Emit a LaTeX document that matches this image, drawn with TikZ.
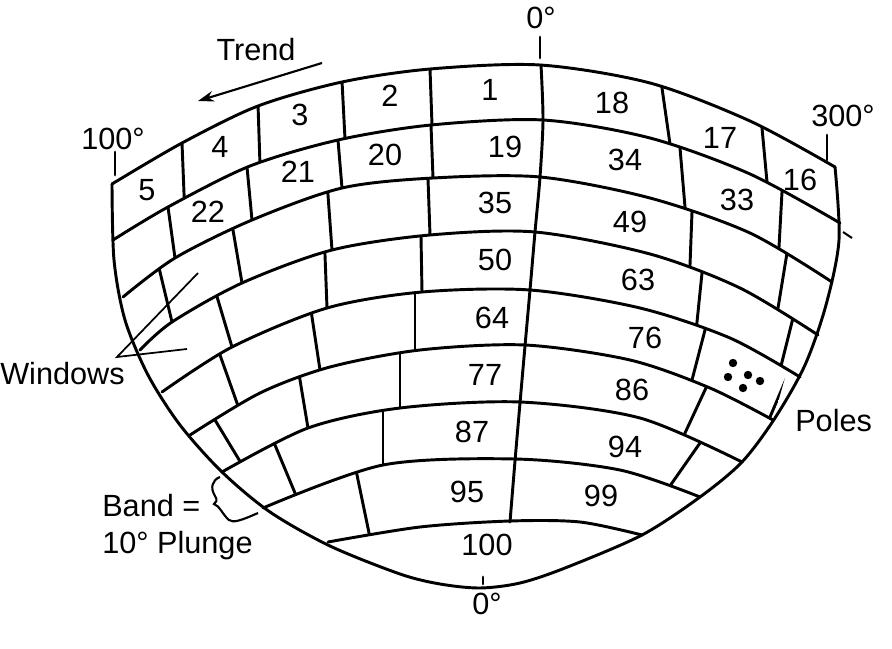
\documentclass[tikz,border=0pt]{standalone}
\usepackage{fontspec}
\setmainfont{Liberation Sans}
\usetikzlibrary{arrows.meta}
\tikzset{
 B0/.style={insert path={plot[smooth] coordinates {(112,184) (182,143) (258,106) (342,82) (430,69) (540,65) (650,83) (750,121) (835,167)}}},
 B1/.style={insert path={plot[smooth] coordinates {(113,240) (168,207) (250,166) (338,140) (431,125) (543,120) (650,138) (750,174) (840,223)}}},
 B2/.style={insert path={plot[smooth] coordinates {(123,297) (175,258) (252,220) (342,188) (433,178) (540,177) (650,198) (750,233) (832,282)}}},
 B3/.style={insert path={plot[smooth] coordinates {(140,350) (172,322) (242,283) (332,250) (430,235) (535,232) (650,254) (740,288) (818,335)}}},
 B4/.style={insert path={plot[smooth] coordinates {(162,392) (232,347) (327,308) (422,292) (530,290) (640,308) (730,338) (800,377)}}},
 B5/.style={insert path={plot[smooth] coordinates {(190,435) (260,393) (330,367) (420,350) (525,345) (630,360) (710,388) (773,420)}}},
 B6/.style={insert path={plot[smooth] coordinates {(222,472) (308,428) (400,408) (520,402) (640,418) (742,462)}}},
 B7/.style={insert path={plot[smooth] coordinates {(263,508) (383,465) (515,459) (620,470) (700,497)}}},
 B8/.style={insert path={plot[smooth] coordinates {(328,542) (420,527) (510,521) (580,522) (642,535)}}},
}
\newcommand\rowclip[2]{%
 \clip[B#1] -- (892,120) -- (892,649) -- (0,649) -- (0,120) -- cycle;
 \clip[B#2] -- (892,0) -- (0,0) -- cycle;}
\begin{document}
\begin{tikzpicture}[x=0.75pt,y=-0.75pt,
 ln/.style={line width=2.2pt,line join=round,line cap=round},
 dl/.style={line width=2.2pt,shorten <=-12pt,shorten >=-12pt},
 lb/.style={font=\fontsize{23}{27}\selectfont,inner sep=0pt}]
\useasboundingbox (0,0) rectangle (892,649);
% dividers, clipped row by row
\begin{scope}\rowclip{0}{1}
\foreach \a/\b/\c/\d in {182/143/184/193,258/104/260/165,342/81/345/139,430/69/432/125,662/88/670/144,762/128/767/182}
 \draw[dl] (\a,\b) -- (\c,\d);
\end{scope}
\begin{scope}\rowclip{1}{2}
\foreach \a/\b/\c/\d in {168/207/175/258,247/167/252/220,338/140/342/188,431/125/433/178,680/148/685/207,782/192/779/247}
 \draw[dl] (\a,\b) -- (\c,\d);
\end{scope}
\begin{scope}\rowclip{2}{3}
\foreach \a/\b/\c/\d in {160/272/172/322,233/230/242/283,328/195/332/250,428/179/430/235,692/212/690/265,787/253/778/308}
 \draw[dl] (\a,\b) -- (\c,\d);
\end{scope}
\begin{scope}\rowclip{3}{4}
\foreach \a/\b/\c/\d in {218/300/232/347,325/255/327/308,421/236/422/292,702/273/697/322,793/318/782/362}
 \draw[dl] (\a,\b) -- (\c,\d);
\end{scope}
\begin{scope}\rowclip{4}{5}
\foreach \a/\b/\c/\d in {149/347/163/388,220/355/237/403,312/317/320/370,415/293/415/350,705/330/692/380,790/370/770/417}
 \draw[dl] (\a,\b) -- (\c,\d);
\end{scope}
\begin{scope}\rowclip{5}{6}
\foreach \a/\b/\c/\d in {215/420/238/458,300/380/308/428,400/351/400/408,705/390/685/433}
 \draw[dl] (\a,\b) -- (\c,\d);
\end{scope}
\begin{scope}\rowclip{6}{7}
\foreach \a/\b/\c/\d in {275/445/295/493,383/410/383/463,700/443/672/483}
 \draw[dl] (\a,\b) -- (\c,\d);
\end{scope}
\begin{scope}\rowclip{7}{8}
\draw[dl] (357,475) -- (368,528);
\end{scope}
% band curves
\draw[ln,B0]; \draw[ln,B1]; \draw[ln,B2]; \draw[ln,B3]; \draw[ln,B4];
\draw[ln,B5]; \draw[ln,B6]; \draw[ln,B7]; \draw[ln,B8];
% bowl
\draw[ln] plot[smooth] coordinates {(112,184) (114,260) (125,320) (148,375) (180,425) (222,472) (270,512) (330,546) (400,574) (440,584) (480,588) (520,583) (565,568) (642,535) (700,497) (742,462) (775,418) (805,365) (826,305) (839,240) (835,167)};
% centre line
\draw[ln] plot[smooth] coordinates {(541,65) (543,120) (540,177) (535,232) (530,290) (525,346) (520,403) (515,461) (510,522)};
% labels
\foreach \t/\x/\y in {5/147/190,4/220/147,3/300/115,2/390/96,1/490/90,18/612/103,17/720/138,16/800/180,
 22/208/212,21/298/172,20/385/155,19/505/147,34/625/160,33/737/200,35/495/203,49/630/222,50/495/260,
 63/638/280,64/492/318,76/645/338,77/485/375,86/632/390,87/472/432,94/625/447,95/467/492,99/601/496,100/487/545}
 \node[lb] (n\t) at (\x,\y) {\t};
% ticks
\draw[ln] (540,37) -- (540,58);
\draw[ln] (115,152) -- (115,175);
\draw[ln] (827,135) -- (827,160);
\draw[ln] (483,577) -- (483,584);
\draw[line width=1.5pt] (843,232) -- (852,238);
\node[lb] (t0) at (541,18) {0°};
\node[lb] (t100) at (113,139) {100°};
\node[lb] (t300) at (843,116) {300°};
\node[lb] (tb) at (487,604) {0°};
% trend
\node[lb] (trend) at (256,50) {Trend};
\coordinate (ta) at (322,63); \coordinate (tz) at (198,101);
\draw[line width=1.6pt,-{Stealth[length=12pt,width=8pt]}] (ta) -- (tz);
% windows
\node[lb,anchor=west] (win) at (0,374) {Windows};
\coordinate (wa) at (117,357); \coordinate (w1) at (198,273); \coordinate (w2) at (187,349);
\draw[line width=1.3pt] (w1) -- (wa) -- (w2);
% poles
\node[lb,anchor=west] (poles) at (795,421) {Poles};
\foreach \px/\py in {733/363,728/377,748/375,760/381,743/388} \fill (\px,\py) circle (4.2);
% band
\node[lb,anchor=west] (band) at (102,506) {Band =};
\node[lb,anchor=west] (plunge) at (102,546) {10° Plunge};
\draw[line width=1.6pt] (220,477) .. controls (212,480) and (210,488) .. (215,496) .. controls (218,500) and (216,503) .. (214,504) .. controls (220,506) and (222,514) .. (229,520) .. controls (233,523) and (240,521) .. (258,513);
\end{tikzpicture}
\end{document}
